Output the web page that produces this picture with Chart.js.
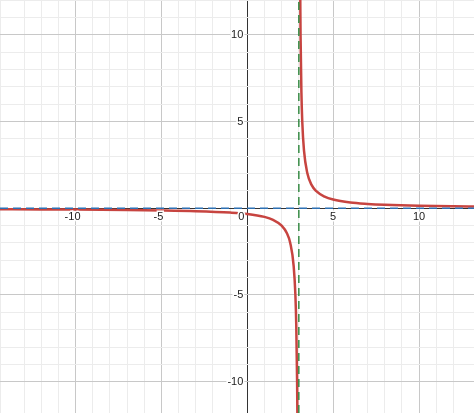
<!DOCTYPE html>
<html><head><meta charset="utf-8">
<script src="https://cdn.jsdelivr.net/npm/chart.js@4"></script>
<style>html,body{margin:0;padding:0;background:#fff}#w{width:474px;height:413px}</style>
</head><body><div id="w"><canvas id="c"></canvas></div>
<script>
const rightX = [3.07, 3.085, 3.1, 3.15, 3.2, 3.3, 3.5, 3.75, 4, 4.5, 5, 6, 7, 8, 10, 12, 13.3];
const rightY = [14, 12, 10, 6.7, 5, 3.33, 2, 1.33, 1, 0.67, 0.5, 0.33, 0.25, 0.2, 0.14, 0.11, 0.1];
const leftX = [-14.5, -12, -10, -7, -5, -3, -1, 0, 1, 1.5, 2, 2.3, 2.5, 2.7, 2.8, 2.85, 2.9, 2.915, 2.93];
const leftY = [-0.057, -0.067, -0.077, -0.1, -0.125, -0.167, -0.25, -0.33, -0.5, -0.67, -1, -1.43, -2, -3.33, -5, -6.7, -10, -11.8, -14];
const xLabels = [-10, -5, 5, 10];
const yLabels = [10, 5, -5, -10];
const vAsym = 3, hAsym = 0;
const X0 = -14.4, X1 = 13.2, Y0 = -11.8, Y1 = 12;

const gridCol = c => c.tick.value === 0 ? '#333' : (c.tick.value % 5 === 0 ? '#c8c8c8' : '#ececec');
const labelPlugin = {
  id: 'lbl',
  afterDraw(ch) {
    const ctx = ch.ctx, xs = ch.scales.x, ys = ch.scales.y;
    ctx.save();
    ctx.font = '11px "Liberation Sans", Arial, sans-serif';
    ctx.fillStyle = '#222'; ctx.lineWidth = 3; ctx.strokeStyle = '#fff';
    const y0 = ys.getPixelForValue(0), x0 = xs.getPixelForValue(0);
    ctx.textAlign = 'center'; ctx.textBaseline = 'top';
    xLabels.forEach(v => { const px = xs.getPixelForValue(v) - (v < 0 ? 3 : 0); ctx.strokeText(String(v), px, y0 + 3); ctx.fillText(String(v), px, y0 + 3); });
    ctx.textAlign = 'right'; ctx.textBaseline = 'middle';
    yLabels.forEach(v => { const py = ys.getPixelForValue(v); ctx.strokeText(String(v), x0 - 4, py); ctx.fillText(String(v), x0 - 4, py); });
    ctx.strokeText('0', x0 - 3, y0 + 9); ctx.fillText('0', x0 - 3, y0 + 9);
    ctx.restore();
  }
};
new Chart(document.getElementById('c'), {
  type: 'scatter',
  data: { datasets: [
    { data: [{x: X0, y: hAsym}, {x: X1, y: hAsym}], showLine: true, borderColor: '#2d70b3', borderWidth: 1.5, borderDash: [8, 5], pointRadius: 0 },
    { data: [{x: vAsym, y: Y0}, {x: vAsym, y: Y1}], showLine: true, borderColor: '#388c46', borderWidth: 1.5, borderDash: [8, 5], pointRadius: 0 },
    { data: rightX.map((x, i) => ({x, y: rightY[i]})), showLine: true, borderColor: '#c74440', borderWidth: 2.5, pointRadius: 0, cubicInterpolationMode: 'monotone' },
    { data: leftX.map((x, i) => ({x, y: leftY[i]})), showLine: true, borderColor: '#c74440', borderWidth: 2.5, pointRadius: 0, cubicInterpolationMode: 'monotone' }
  ]},
  options: {
    responsive: true, maintainAspectRatio: false, animation: false,
    layout: { padding: 0 },
    plugins: { legend: { display: false }, tooltip: { enabled: false } },
    scales: {
      x: { type: 'linear', min: X0, max: X1, ticks: { display: false, stepSize: 1 }, grid: { color: gridCol, drawTicks: false }, border: { display: false } },
      y: { type: 'linear', min: Y0, max: Y1, ticks: { display: false, stepSize: 1 }, grid: { color: gridCol, drawTicks: false }, border: { display: false } }
    }
  },
  plugins: [labelPlugin]
});
</script></body></html>
